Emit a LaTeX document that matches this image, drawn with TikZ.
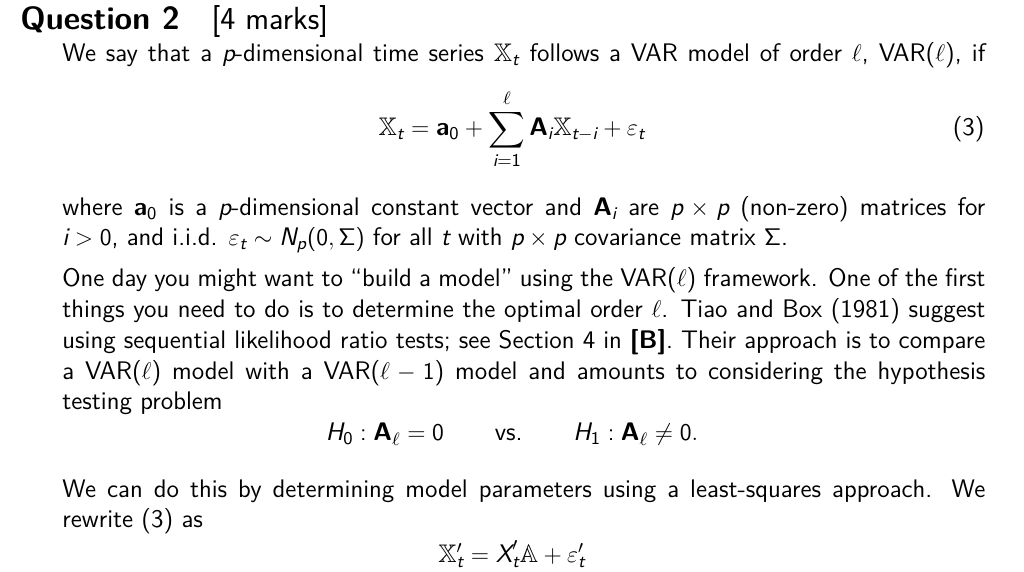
\documentclass[tikz,border=0pt]{standalone}
\usepackage{amsmath,amssymb}
\DeclareSymbolFont{operators}{OT1}{cmss}{m}{n}
\SetSymbolFont{operators}{bold}{OT1}{cmss}{bx}{n}
\newcommand{\vv}[1]{\text{\sffamily\itshape #1}}
\newcommand{\bv}[1]{\text{\sffamily\bfseries #1}}
\newcommand{\jl}[1]{\makebox[461.5pt][s]{#1}}
\begin{document}
\sffamily
\begin{tikzpicture}[x=0.5pt,y=-0.5pt,
  ln/.style={anchor=base west,inner sep=0pt,font=\fontsize{12.7}{15}\selectfont\sffamily},
  eq/.style={anchor=base,inner sep=0pt,font=\fontsize{12.7}{15}\selectfont\sffamily}]
\useasboundingbox (0,0) rectangle (1024,572);
\node[anchor=base west,inner sep=0pt,font=\fontsize{16}{18}\selectfont\sffamily] (title) at (20,30) {\textbf{Question 2}\quad[4 marks]};
\node[ln] (l1) at (62,62) {\jl{We say that a $\vv{p}$-dimensional time series $\mathbb{X}_{\vv{t}}$ follows a VAR model of order $\ell$, VAR($\ell$), if}};
\node[eq] (e1) at (512,136) {$\displaystyle \mathbb{X}_{\vv{t}}=\bv{a}_0+\sum_{\vv{i}=1}^{\ell}\bv{A}_{\vv{i}}\mathbb{X}_{\vv{t}-\vv{i}}+\varepsilon_{\vv{t}}$};
\node[anchor=base east,inner sep=0pt,font=\fontsize{12.7}{15}\selectfont\sffamily] (n3) at (985,136) {(3)};
\node[ln] (l2) at (62,216) {\jl{where $\bv{a}_0$ is a $\vv{p}$-dimensional constant vector and $\bv{A}_{\vv{i}}$ are $\vv{p}\times \vv{p}$ (non-zero) matrices for}};
\node[ln] (l3) at (62,246) {$\vv{i}>0$, and i.i.d. $\varepsilon_{\vv{t}}\sim \vv{N}_{\vv{p}}(0,\Sigma)$ for all $\vv{t}$ with $\vv{p}\times \vv{p}$ covariance matrix $\Sigma$.};
\node[ln] (l4) at (62,287) {\jl{One day you might want to ``build a model'' using the VAR($\ell$) framework. One of the first}};
\node[ln] (l5) at (62,318) {\jl{things you need to do is to determine the optimal order $\ell$. Tiao and Box (1981) suggest}};
\node[ln] (l6) at (62,349) {\jl{using sequential likelihood ratio tests; see Section 4 in \textbf{[B]}. Their approach is to compare}};
\node[ln] (l7) at (62,380) {\jl{a VAR($\ell$) model with a VAR($\ell-1$) model and amounts to considering the hypothesis}};
\node[ln] (l8) at (62,410) {testing problem};
\node[eq] (e2) at (512,441) {$\vv{H}_0:\bv{A}_\ell=0\qquad\text{vs.}\qquad \vv{H}_1:\bv{A}_\ell\neq0.$};
\node[ln] (l9) at (62,498) {\jl{We can do this by determining model parameters using a least-squares approach. We}};
\node[ln] (l10) at (62,528) {rewrite (3) as};
\node[eq] (e3) at (512,562) {$\mathbb{X}_{\vv{t}}'=\vv{X}_{\vv{t}}'\mathbb{A}+\varepsilon_{\vv{t}}'$};
\end{tikzpicture}
\end{document}
